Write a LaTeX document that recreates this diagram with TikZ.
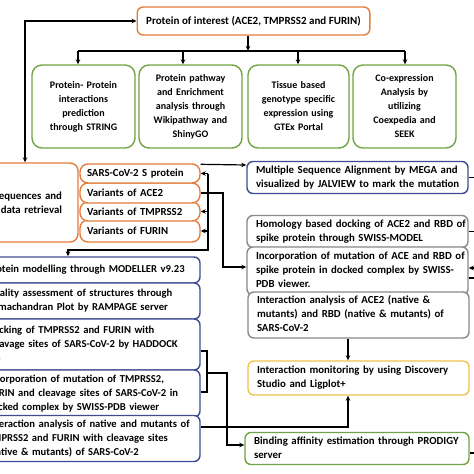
\documentclass[tikz,border=0pt]{standalone}
\usepackage{fontspec}
\setmainfont{Carlito}
\usetikzlibrary{positioning,calc,arrows.meta}

\definecolor{boxorange}{HTML}{E27D3B}
\definecolor{boxgreen}{HTML}{6FA443}
\definecolor{boxblue}{HTML}{3F4C92}
\definecolor{boxgrey}{HTML}{8A8A8A}
\definecolor{boxyellow}{HTML}{F2C14E}

% lines of a box, never broken again
\newcommand{\rows}[1]{\begin{tabular}{@{}l@{}}#1\end{tabular}}

\tikzset{
  stage/.style={draw, line width=1.4pt, rounded corners=6pt, fill=white,
    font=\bfseries\fontsize{10.6}{14}\selectfont, inner xsep=9pt, inner ysep=2pt, align=left},
  topbox/.style={stage, draw=boxorange, font=\bfseries\fontsize{11}{14}\selectfont},
  toolbox/.style={stage, draw=boxgreen, rounded corners=10pt, align=center, inner xsep=5pt,
    font=\bfseries\fontsize{10}{14}\selectfont},
  seqbox/.style={stage, draw=boxorange, rounded corners=8pt, font=\bfseries\fontsize{10.8}{14}\selectfont},
  modelbox/.style={stage, draw=boxblue},
  rightbox/.style={stage, font=\bfseries\fontsize{10.8}{14}\selectfont},
  dockbox/.style={rightbox, draw=boxgrey},
  monbox/.style={rightbox, draw=boxyellow},
  affbox/.style={rightbox, draw=boxgreen},
  link/.style={line width=1.2pt},
  arr/.style={link, -{Stealth[length=5pt,width=4.5pt]}},
}

\begin{document}
\begin{tikzpicture}[x=1pt,y=-1pt]
    \clip (0,0) rectangle (474,474);
    \fill[white] (0,0) rectangle (474,474);

    % protein of interest and the four analyses
    \node[topbox, minimum width=229, minimum height=28, align=center] (poi) at (253.5,21)
        {Protein of interest (ACE2, TMPRSS2 and FURIN)};
    \node[toolbox, minimum width=103, minimum height=83, text width=93] (ppi) at (83.5,106.5)
        {Protein- Protein\\interactions\\prediction\\through STRING};
    \node[toolbox, minimum width=103, minimum height=83, text width=93] (path) at (190.5,106.5)
        {Protein pathway\\and Enrichment\\analysis through\\Wikipathway and\\ShinyGO};
    \node[toolbox, minimum width=101, minimum height=83, text width=91] (gtex) at (298.5,106.5)
        {Tissue based\\genotype specific\\expression using\\GTEx Portal};
    \node[toolbox, minimum width=103, minimum height=83, text width=93] (coex) at (404.5,106.5)
        {Co-expression\\Analysis by\\utilizing\\Coexpedia and\\SEEK};

    % sequences
    \node[seqbox, minimum width=108, minimum height=79, text width=76, inner xsep=16pt, align=right,
        font=\bfseries\fontsize{10.8}{14}\selectfont] (seq) at (24,202.5)
        {Sequences and\\data retrieval};
    \node[seqbox, minimum width=120, minimum height=22, text width=106, inner xsep=7pt] (furin) at (140,231)
        {Variants of FURIN};
    \node[seqbox, minimum width=120, minimum height=19, text width=106, inner xsep=7pt] (tmp) at (140,211.5)
        {Variants of TMPRSS2};
    \node[seqbox, minimum width=120, minimum height=20, text width=106, inner xsep=7pt] (ace) at (140,193)
        {Variants of ACE2};
    \node[seqbox, minimum width=120, minimum height=19, text width=106, inner xsep=7pt] (spike) at (140,173.5)
        {SARS-CoV-2 S protein};

    % left column
    \node[modelbox, minimum width=222, minimum height=26, text width=204] (model) at (89,270)
        {\rows{Protein modelling through MODELLER v9.23}};
    \node[modelbox, minimum width=222, minimum height=36, text width=204] (rama) at (89,301)
        {\rows{Quality assessment of structures through\\Ramachandran Plot by RAMPAGE server}};
    \node[modelbox, minimum width=222, minimum height=51, text width=204] (hadd) at (89,344.5)
        {\rows{Docking of TMPRSS2 and FURIN with\\cleavage sites of SARS-CoV-2 by HADDOCK\\2.4}};
    \node[modelbox, minimum width=222, minimum height=47, text width=204] (mutb) at (89,393.5)
        {\rows{Incorporation of mutation of TMPRSS2,\\FURIN and cleavage sites of SARS-CoV-2 in\\docked complex by SWISS-PDB viewer}};
    \node[modelbox, minimum width=222, minimum height=43, text width=204] (intb) at (89,438.5)
        {\rows{Interaction analysis of native and mutants of\\TMPRSS2 and FURIN with cleavage sites\\(native \& mutants) of SARS-CoV-2}};

    % right column
    \node[rightbox, draw=boxblue, minimum width=221, minimum height=31, text width=203] (msa) at (357.5,177.5)
        {\rows{Multiple Sequence Alignment by MEGA and\\visualized by JALVIEW to mark the mutation}};
    \node[dockbox, minimum width=221, minimum height=31, text width=203] (homo) at (357.5,231.5)
        {\rows{Homology based docking of ACE2 and RBD of\\spike protein through SWISS-MODEL}};
    \node[dockbox, minimum width=221, minimum height=48, text width=203] (muta) at (357.5,271)
        {\rows{Incorporation of mutation of ACE and RBD of\\spike protein in docked complex by SWISS-\\PDB viewer.}};
    \node[dockbox, minimum width=221, minimum height=40, text width=203] (inta) at (358.5,315)
        {\rows{Interaction analysis of ACE2 (native \&\\mutants) and RBD (native \& mutants) of\\SARS-CoV-2}};
    \node[monbox, minimum width=221, minimum height=34, text width=203] (mon) at (358.5,378)
        {\rows{Interaction monitoring by using Discovery\\Studio and Ligplot+}};
    \node[affbox, minimum width=224, minimum height=31, text width=206] (prod) at (357,448.5)
        {\rows{Binding affinity estimation through PRODIGY\\server}};

    % helper points
    \coordinate (bar) at (248,51);
    \coordinate (bus) at (208,250);
    \coordinate (mx) at (348,0);
    \coordinate (far) at (484,0);

    % connectors
    \draw[arr, {Stealth[length=5pt,width=4.5pt]}-{Stealth[length=5pt,width=4.5pt]}] (seq.north -| 25,0) |- (poi.west);
    \draw[arr] (poi.south -| bar) -- (bar);
    \draw[link] (bar -| 78,0) -- (bar -| 405,0);
    \draw[arr] (bar -| 78,0) -- (ppi.north -| 78,0);
    \draw[arr] (bar -| 183,0) -- (path.north -| 183,0);
    \draw[arr] (bar -| 298,0) -- (gtex.north -| 298,0);
    \draw[arr] (bar -| 405,0) -- (coex.north -| 405,0);

    \draw[arr] (spike.north east) ++(0,1) -- (msa.west |- 0,165);
    \draw[arr] (bus |- spike.east) -- (spike.east);
    \draw[arr] (bus |- tmp.east) -- (tmp.east);
    \draw[arr] (bus |- furin.east) -- (furin.east);
    \draw[arr] (bus |- spike.east) -- (bus) -| (model.north -| 68,0);
    \draw[arr] (ace.east) -| (223,267) -- (muta.west |- 0,267);

    \draw[arr] (inta.south -| mx) -- (mon.north -| mx);
    \draw[arr] (intb.east |- 0,427) -| (mon.south -| mx);
    \draw[link] (hadd.east |- 0,351) -| (207,392) -- (mutb.east |- 0,392);
    \draw[arr] (207,373) -| (227,445) -- (prod.west |- 0,445);

    % lines leaving the right edge
    \draw[link] (msa.east) -- (msa.east -| far);
    \draw[link] (homo.east) -- (homo.east -| far);
    \draw[arr] (far |- 0,268) -- (muta.east |- 0,268);
    \draw[link] (muta.east |- 0,278) -- (far |- 0,278);
    \draw[link] (prod.east |- 0,453) -- (far |- 0,453);
\end{tikzpicture}
\end{document}
